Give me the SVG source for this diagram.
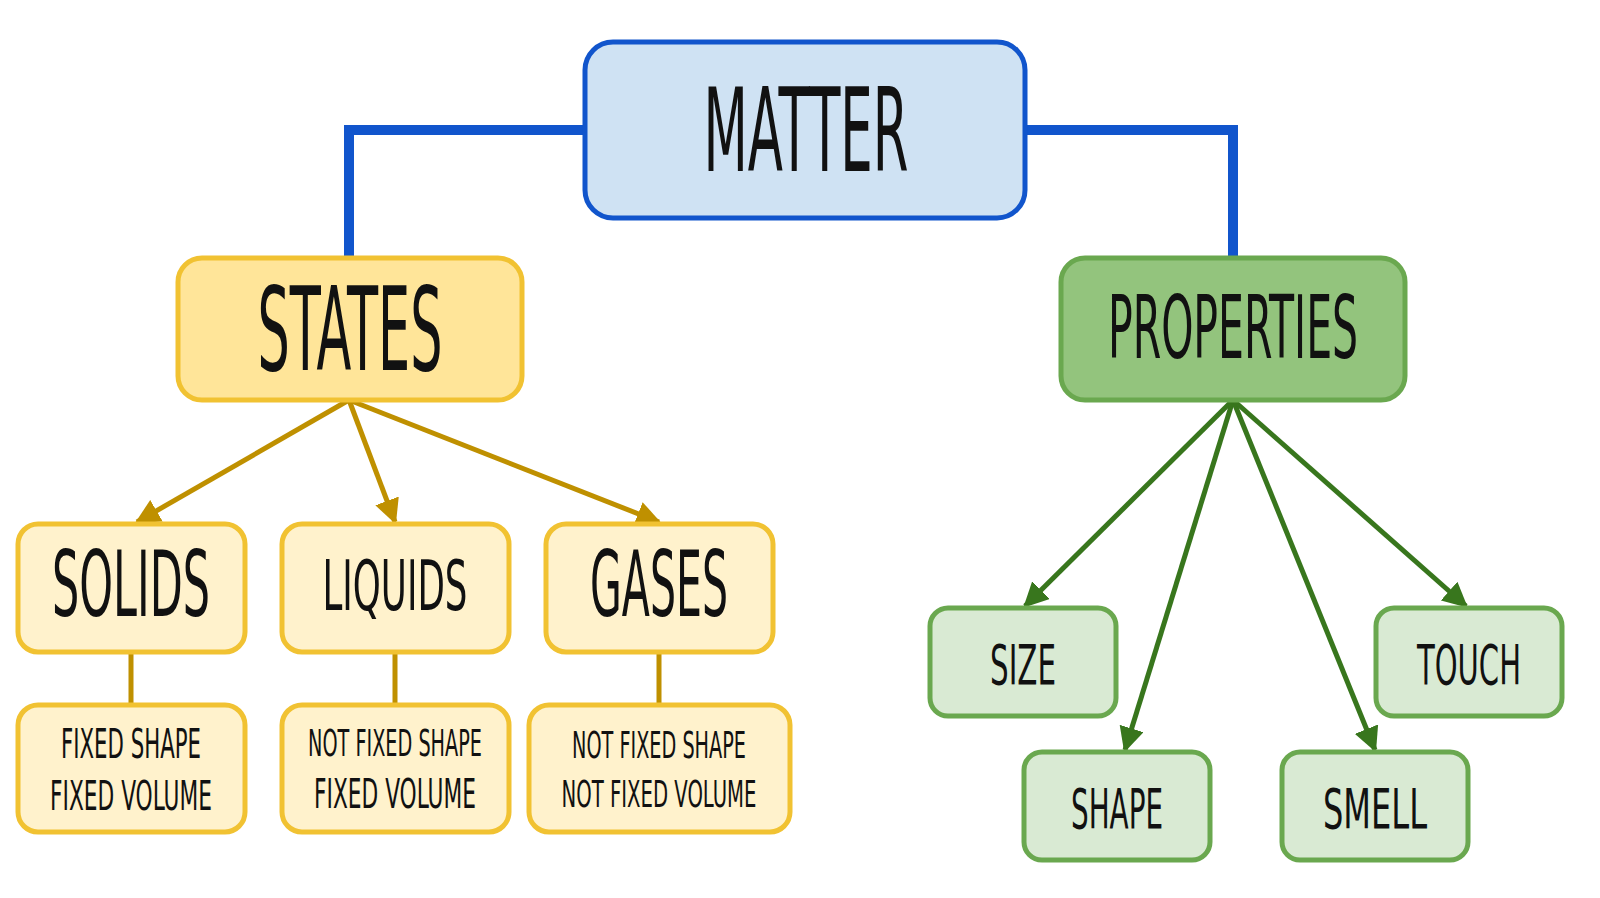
<svg xmlns="http://www.w3.org/2000/svg" width="1600" height="898" viewBox="0 0 1600 898">
<style>
text{font-family:"DejaVu Sans Condensed","DejaVu Sans","Liberation Sans",sans-serif;fill:#111;text-anchor:middle}
.y rect{fill:#fff2cc;stroke:#f1c232;stroke-width:5}
.g rect{fill:#d9ead3;stroke:#6aa84f;stroke-width:5}
.ya{stroke:#bf9000;stroke-width:5;fill:none}
.ga{stroke:#38761d;stroke-width:5;fill:none}
</style>
<defs>
<marker id="my" viewBox="0 0 10 10" refX="9" refY="5" markerWidth="5" markerHeight="5" orient="auto" markerUnits="strokeWidth"><path d="M0,0L10,5L0,10z" fill="#bf9000"/></marker>
<marker id="mg" viewBox="0 0 10 10" refX="9" refY="5" markerWidth="5" markerHeight="5" orient="auto" markerUnits="strokeWidth"><path d="M0,0L10,5L0,10z" fill="#38761d"/></marker>
</defs>
<rect width="1600" height="898" fill="#fff"/>
<g id="connectors">
<path d="M585,130H349V258M1025,130H1233V258" stroke="#1155cc" stroke-width="10" fill="none"/>
<path class="ya" d="M349,400L137,522" marker-end="url(#my)"/>
<path class="ya" d="M349,400L395,522" marker-end="url(#my)"/>
<path class="ya" d="M349,400L659,522" marker-end="url(#my)"/>
<path class="ya" d="M131,652V705M395,652V705M659,652V705"/>
<path class="ga" d="M1233,400L1025,606" marker-end="url(#mg)"/>
<path class="ga" d="M1233,400L1125,750" marker-end="url(#mg)"/>
<path class="ga" d="M1233,400L1375,750" marker-end="url(#mg)"/>
<path class="ga" d="M1233,400L1466,606" marker-end="url(#mg)"/>
</g>
<g id="matter"><rect x="585" y="42" width="440" height="176" rx="28" fill="#cfe2f3" stroke="#1155cc" stroke-width="5"/><text x="806" y="171" font-size="116" textLength="205" lengthAdjust="spacingAndGlyphs">MATTER</text></g>
<g id="states"><rect x="178" y="258" width="344" height="142" rx="24" fill="#ffe599" stroke="#f1c232" stroke-width="5"/><text x="350" y="370" font-size="116" textLength="185" lengthAdjust="spacingAndGlyphs">STATES</text></g>
<g id="properties"><rect x="1061" y="258" width="344" height="142" rx="24" fill="#93c47d" stroke="#6aa84f" stroke-width="5"/><text x="1233" y="358" font-size="88" textLength="250" lengthAdjust="spacingAndGlyphs">PROPERTIES</text></g>
<g id="solids" class="y"><rect x="18" y="524" width="227" height="128" rx="20"/><text x="131" y="616" font-size="90" textLength="158" lengthAdjust="spacingAndGlyphs">SOLIDS</text></g>
<g id="liquids" class="y"><rect x="282" y="524" width="227" height="128" rx="20"/><text x="395" y="610" font-size="70" textLength="145" lengthAdjust="spacingAndGlyphs">LIQUIDS</text></g>
<g id="gases" class="y"><rect x="546" y="524" width="227" height="128" rx="20"/><text x="659" y="616" font-size="90" textLength="138" lengthAdjust="spacingAndGlyphs">GASES</text></g>
<g id="solids-desc" class="y"><rect x="18" y="705" width="227" height="127" rx="20"/><text x="131" y="758" font-size="40" textLength="140" lengthAdjust="spacingAndGlyphs">FIXED SHAPE</text><text x="131" y="810" font-size="40" textLength="162" lengthAdjust="spacingAndGlyphs">FIXED VOLUME</text></g>
<g id="liquids-desc" class="y"><rect x="282" y="705" width="227" height="127" rx="20"/><text x="395" y="756" font-size="38" textLength="174" lengthAdjust="spacingAndGlyphs">NOT FIXED SHAPE</text><text x="395" y="808" font-size="40" textLength="162" lengthAdjust="spacingAndGlyphs">FIXED VOLUME</text></g>
<g id="gases-desc" class="y"><rect x="529" y="705" width="261" height="127" rx="20"/><text x="659" y="758" font-size="38" textLength="174" lengthAdjust="spacingAndGlyphs">NOT FIXED SHAPE</text><text x="659" y="807" font-size="38" textLength="195" lengthAdjust="spacingAndGlyphs">NOT FIXED VOLUME</text></g>
<g id="size" class="g"><rect x="930" y="608" width="186" height="108" rx="18"/><text x="1023" y="684" font-size="56" textLength="66" lengthAdjust="spacingAndGlyphs">SIZE</text></g>
<g id="touch" class="g"><rect x="1376" y="608" width="186" height="108" rx="18"/><text x="1469" y="684" font-size="56" textLength="104" lengthAdjust="spacingAndGlyphs">TOUCH</text></g>
<g id="shape" class="g"><rect x="1024" y="752" width="186" height="108" rx="18"/><text x="1117" y="828" font-size="56" textLength="92" lengthAdjust="spacingAndGlyphs">SHAPE</text></g>
<g id="smell" class="g"><rect x="1282" y="752" width="186" height="108" rx="18"/><text x="1375" y="828" font-size="56" textLength="104" lengthAdjust="spacingAndGlyphs">SMELL</text></g>
</svg>
